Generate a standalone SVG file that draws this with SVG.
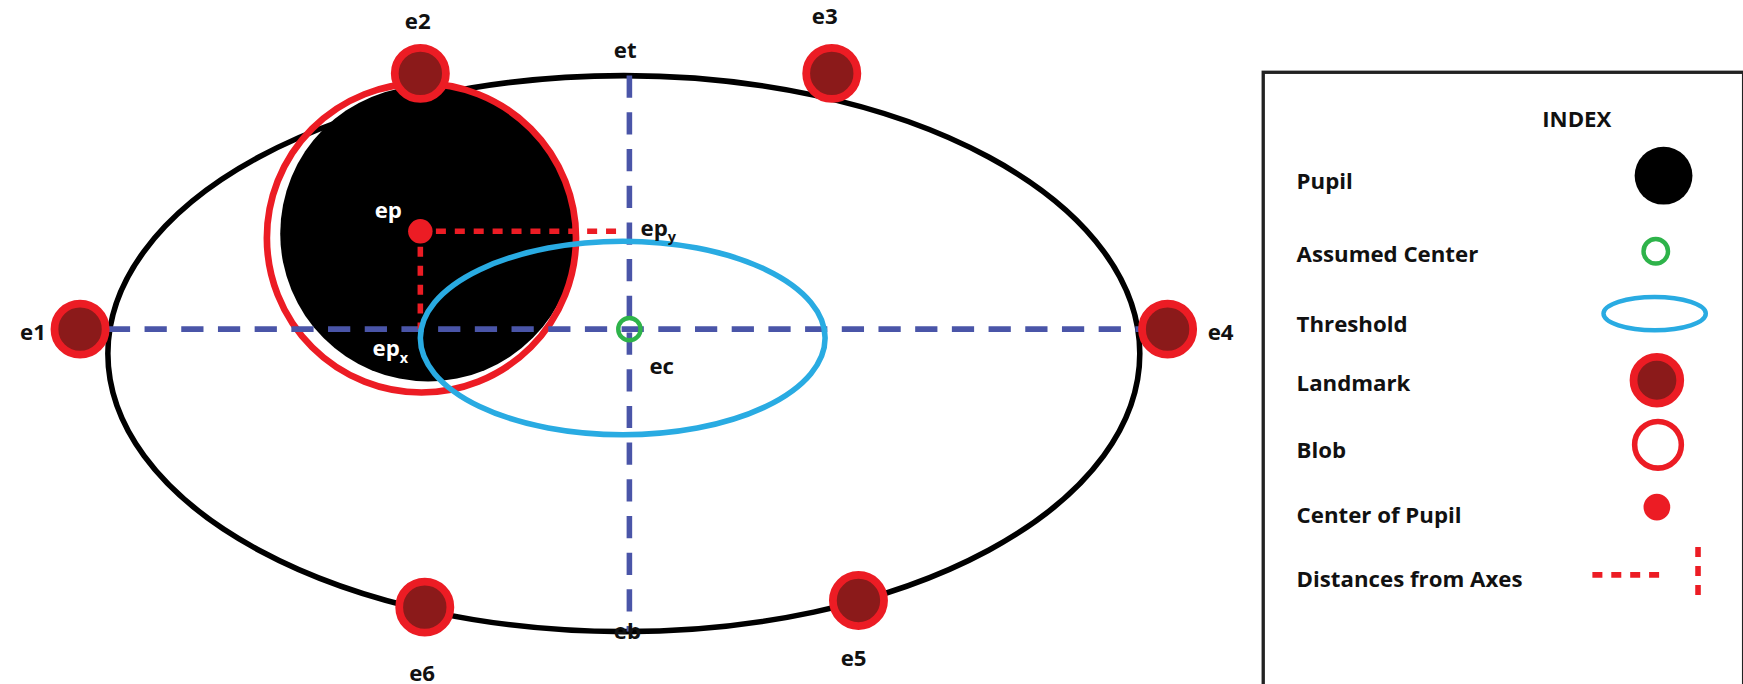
<svg xmlns="http://www.w3.org/2000/svg" width="1743" height="684" viewBox="0 0 1743 684">
<style>
text{font-family:"Open Sans","Liberation Sans",sans-serif;font-weight:bold;font-size:20px;fill:#111}
.w{fill:#fff}
.lm{fill:#8b1a1a;stroke:#ec1c24;stroke-width:7}
.ax{stroke:#4a55a8;stroke-width:5;stroke-dasharray:20 13;fill:none}
.rd{stroke:#ec1c24;stroke-width:5;stroke-dasharray:9 8;fill:none}
</style>
<rect width="1743" height="684" fill="#fff"/>
<g transform="scale(1.112)">
<g id="eye"><ellipse cx="561" cy="318" rx="464" ry="250" fill="none" stroke="#000" stroke-width="5"/></g>
<g id="pupil"><circle cx="385" cy="210" r="133" fill="#000"/></g>
<g id="blob"><circle cx="379" cy="214" r="139" fill="none" stroke="#ec1c24" stroke-width="6"/></g>
<g id="connectors">
<line class="ax" x1="97" y1="296" x2="1025" y2="296"/>
<line class="ax" x1="566" y1="68" x2="566" y2="568"/>
<line class="rd" x1="392" y1="208" x2="562" y2="208"/>
<line class="rd" x1="378" y1="222" x2="378" y2="296"/>
</g>
<g id="threshold"><ellipse cx="560" cy="304" rx="182" ry="87" fill="none" stroke="#29abe2" stroke-width="5"/></g>
<g id="center"><circle cx="566" cy="296" r="10" fill="none" stroke="#2eb34a" stroke-width="4"/></g>
<g id="pupilcenter"><circle cx="378" cy="208" r="11" fill="#ec1c24"/></g>
<g id="landmarks">
<circle class="lm" cx="72" cy="296" r="23"/>
<circle class="lm" cx="378" cy="66" r="23"/>
<circle class="lm" cx="748" cy="66" r="23"/>
<circle class="lm" cx="1050" cy="296" r="23"/>
<circle class="lm" cx="382" cy="546" r="23"/>
<circle class="lm" cx="772" cy="540" r="23"/>
</g>
<g id="labels">
<text x="18" y="306">e1</text>
<text x="364" y="26">e2</text>
<text x="730" y="22">e3</text>
<text x="1086" y="306">e4</text>
<text x="368" y="612">e6</text>
<text x="756" y="599">e5</text>
<text x="552" y="52">et</text>
<text x="552" y="575">eb</text>
<text x="584" y="336">ec</text>
<text class="w" x="337" y="196">ep</text>
<text x="576" y="212">ep<tspan font-size="13" dy="6">y</tspan></text>
<text class="w" x="335" y="320">ep<tspan font-size="13" dy="6">x</tspan></text>
</g>
<g id="legend">
<rect x="1136" y="65" width="432" height="573" fill="#fff" stroke="#222" stroke-width="3"/>
<text x="1418" y="114" text-anchor="middle">INDEX</text>
<text x="1166" y="170">Pupil</text>
<text x="1166" y="236">Assumed Center</text>
<text x="1166" y="299">Threshold</text>
<text x="1166" y="352">Landmark</text>
<text x="1166" y="412">Blob</text>
<text x="1166" y="470">Center of Pupil</text>
<text x="1166" y="528">Distances from Axes</text>
<circle cx="1496" cy="158" r="26" fill="#000"/>
<circle cx="1489" cy="226" r="11" fill="none" stroke="#2eb34a" stroke-width="4"/>
<ellipse cx="1488" cy="282" rx="46" ry="15" fill="none" stroke="#29abe2" stroke-width="4"/>
<circle class="lm" cx="1490" cy="342" r="21"/>
<circle cx="1491" cy="400" r="21" fill="none" stroke="#ec1c24" stroke-width="5"/>
<circle cx="1490" cy="456" r="12" fill="#ec1c24"/>
<line class="rd" x1="1432" y1="517" x2="1500" y2="517"/>
<line class="rd" x1="1527" y1="492" x2="1527" y2="540"/>
</g>
</g>
</svg>
